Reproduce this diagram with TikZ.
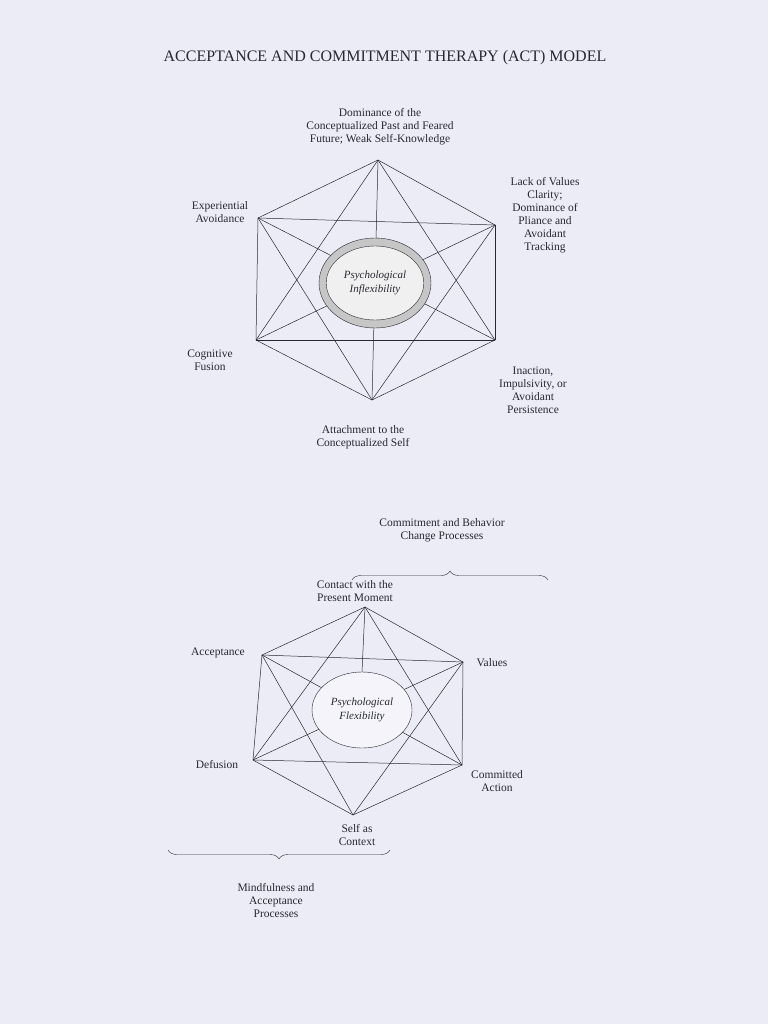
\documentclass[tikz,border=0pt]{standalone}
\usepackage{fontspec}
\setmainfont{Liberation Serif}
\usetikzlibrary{positioning,decorations.pathreplacing,shapes.geometric}
\definecolor{paper}{RGB}{236,236,246}
\definecolor{ink}{RGB}{40,40,50}
\begin{document}
\begin{tikzpicture}[x=1pt,y=-1pt,
    line join=round,
    hexline/.style={draw=ink,line width=0.5pt},
    lbl/.style={align=center,font=\fontsize{11.5}{13}\selectfont,text=ink,inner sep=1pt},
    hand/.style={align=center,font=\itshape\fontsize{11}{14}\selectfont,text=ink}
  ]
    \fill[paper] (0,0) rectangle (768,1024);
    \node[font=\fontsize{16}{18}\selectfont,text=ink] (title) at (385,58) {ACCEPTANCE AND COMMITMENT THERAPY (ACT) MODEL};

    % upper hexagon
    \coordinate (t1) at (378,160);
    \coordinate (t2) at (495,225);
    \coordinate (t3) at (495,340);
    \coordinate (t4) at (372,400);
    \coordinate (t5) at (256,340);
    \coordinate (t6) at (258,218);
    \foreach \a/\b in {t1/t2,t2/t3,t3/t4,t4/t5,t5/t6,t6/t1,
                       t1/t3,t1/t4,t1/t5,t2/t4,t2/t5,t2/t6,t3/t5,t3/t6,t4/t6}
        \draw[hexline] (\a) -- (\b);
    \node[ellipse,draw=ink,fill=gray!45,minimum width=112pt,minimum height=90pt] (ring) at (375,283) {};
    \node[ellipse,draw=ink,fill=gray!12,minimum width=96pt,minimum height=74pt,hand] (inflex) at (375,283) {Psychological\\Inflexibility};

    \node[lbl] (past) at (380,127) {Dominance of the\\Conceptualized Past and Feared\\Future; Weak Self-Knowledge};
    \node[lbl] (clarity) at (545,215) {Lack of Values\\Clarity;\\Dominance of\\Pliance and\\Avoidant\\Tracking};
    \node[lbl] (avoid) at (220,212) {Experiential\\Avoidance};
    \node[lbl] (fusion) at (210,360) {Cognitive\\Fusion};
    \node[lbl] (inaction) at (533,390) {Inaction,\\Impulsivity, or\\Avoidant\\Persistence};
    \node[lbl] (attach) at (363,437) {Attachment to the\\Conceptualized Self};

    \node[lbl] (commit) at (442,530) {Commitment and Behavior\\Change Processes};
    \draw[ink,decorate,decoration={brace,amplitude=9pt}] (352,580) -- (548,580);

    % lower hexagon
    \coordinate (b1) at (365,607);
    \coordinate (b2) at (463,662);
    \coordinate (b3) at (462,765);
    \coordinate (b4) at (353,815);
    \coordinate (b5) at (253,760);
    \coordinate (b6) at (262,655);
    \foreach \a/\b in {b1/b2,b2/b3,b3/b4,b4/b5,b5/b6,b6/b1,
                       b1/b3,b1/b5,b2/b4,b2/b6,b3/b5,b4/b6,b2/b5,b3/b6}
        \draw[hexline] (\a) -- (\b);
    \node[ellipse,draw=ink,fill=paper!60!white,minimum width=100pt,minimum height=76pt,hand] (flex) at (362,710) {Psychological\\Flexibility};
    \draw[hexline] (b1) -- (flex.north);

    \node[lbl] (contact) at (355,591) {Contact with the\\Present Moment};
    \node[lbl] (accept) at (218,653) {Acceptance};
    \node[lbl] (values) at (492,663) {Values};
    \node[lbl] (defusion) at (217,764) {Defusion};
    \node[lbl] (action) at (497,781) {Committed\\Action};
    \node[lbl] (context) at (357,835) {Self as\\Context};

    \draw[ink,decorate,decoration={brace,amplitude=9pt,mirror}] (168,850) -- (390,850);
    \node[lbl] (mindful) at (276,900) {Mindfulness and\\Acceptance\\Processes};
\end{tikzpicture}
\end{document}
